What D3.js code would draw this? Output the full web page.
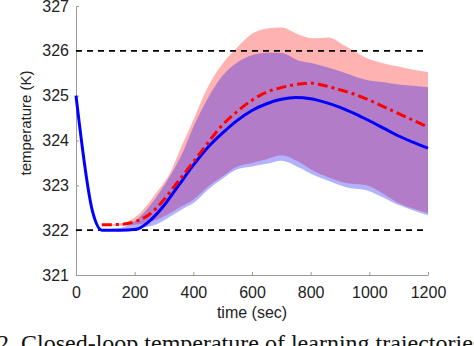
<!DOCTYPE html>
<html>
<head>
<meta charset="utf-8">
<script src="https://cdn.jsdelivr.net/npm/d3@7"></script>
<style>
  body { margin: 0; background: #fff; overflow: hidden; }
  svg { display: block; }
  .tick text { font-family: "Liberation Sans", Arial, sans-serif; font-size: 16px; fill: #222; }
</style>
</head>
<body>
<div class="chart"></div>
<script>
// values (time in sec, temperature in K)
const X_TICKS = [0, 200, 400, 600, 800, 1000, 1200];
const Y_TICKS = [321, 322, 323, 324, 325, 326, 327];
const LIMITS = [322, 326];

const BLUE_T = [0, 57, 88, 150, 205, 250, 300, 350, 400, 450, 500, 550, 600, 650, 700, 750, 800, 850, 900, 950, 1000, 1050, 1100, 1150, 1200];
const BLUE_V = [325.0, 322.4, 322.0, 322.0, 322.02, 322.2, 322.55, 323.0, 323.45, 323.85, 324.17, 324.45, 324.67, 324.82, 324.92, 324.96, 324.93, 324.85, 324.74, 324.6, 324.44, 324.27, 324.1, 323.96, 323.83];

const RED_T = [88, 150, 205, 250, 275, 350, 423, 500, 550, 600, 650, 700, 750, 800, 850, 900, 950, 1000, 1050, 1100, 1150, 1200];
const RED_V = [322.12, 322.13, 322.2, 322.35, 322.5, 323.1, 323.72, 324.35, 324.65, 324.9, 325.08, 325.18, 325.25, 325.28, 325.22, 325.13, 325.03, 324.9, 324.75, 324.6, 324.45, 324.3];

// bands: upper and lower envelope of each run set
const BAND_T = [88, 150, 218, 270, 320, 365, 400, 450, 500, 550, 600, 650, 700, 760, 810, 860, 920, 990, 1050, 1100, 1150, 1200];
const RED_HI = [322.12, 322.15, 322.38, 322.8, 323.27, 323.95, 324.46, 325.2, 325.72, 326.08, 326.38, 326.5, 326.52, 326.36, 326.28, 326.3, 326.1, 325.84, 325.72, 325.65, 325.58, 325.53];
const RED_LO = [322.1, 322.1, 322.13, 322.22, 322.38, 322.55, 322.68, 322.97, 323.2, 323.42, 323.5, 323.58, 323.67, 323.52, 323.32, 323.18, 323.05, 323.0, 322.8, 322.6, 322.48, 322.38];
const BLUE_HI = [322.02, 322.05, 322.3, 322.7, 323.2, 323.75, 324.3, 324.95, 325.45, 325.74, 325.9, 325.96, 325.95, 325.78, 325.72, 325.63, 325.5, 325.35, 325.3, 325.25, 325.22, 325.19];
const BLUE_LO = [322.0, 322.0, 322.05, 322.12, 322.3, 322.48, 322.6, 322.9, 323.15, 323.36, 323.42, 323.48, 323.55, 323.4, 323.23, 323.1, 322.96, 322.89, 322.72, 322.56, 322.44, 322.33];

const WIDTH = 474;
const HEIGHT = 346;
const X_RANGE = [76, 428];
const Y_RANGE = [275, 6];

const svg = d3.select(".chart")
  .append("svg")
  .attr("width", WIDTH)
  .attr("height", HEIGHT);

const xScale = d3.scaleLinear().domain([0, 1200]).range(X_RANGE);
const yScale = d3.scaleLinear().domain([321, 327]).range(Y_RANGE);

const zip = (ts, vs) => ts.map((t, i) => [t, vs[i]]);
const band = (lo, hi) => BAND_T.map((t, i) => ({ t, lo: lo[i], hi: hi[i] }));

const area = d3.area()
  .x(d => xScale(d.t))
  .y0(d => yScale(d.lo))
  .y1(d => yScale(d.hi))
  .curve(d3.curveMonotoneX);

const line = d3.line()
  .x(d => xScale(d[0]))
  .y(d => yScale(d[1]))
  .curve(d3.curveMonotoneX);

// shaded ranges
svg.append("path")
  .attr("d", area(band(RED_LO, RED_HI)))
  .attr("fill", "#ff0000")
  .attr("fill-opacity", 0.3);
svg.append("path")
  .attr("d", area(band(BLUE_LO, BLUE_HI)))
  .attr("fill", "#0000ff")
  .attr("fill-opacity", 0.3);

// axes (left and bottom only, ticks pointing in)
const xAxis = svg.append("g")
  .attr("transform", `translate(0, ${Y_RANGE[0]})`)
  .call(d3.axisBottom(xScale).tickValues(X_TICKS).tickFormat(d3.format("d"))
    .tickSizeInner(-3).tickSizeOuter(0).tickPadding(8));
const yAxis = svg.append("g")
  .attr("transform", `translate(${X_RANGE[0]}, 0)`)
  .call(d3.axisLeft(yScale).tickValues(Y_TICKS).tickFormat(d3.format("d"))
    .tickSizeInner(-3).tickSizeOuter(0).tickPadding(7));
svg.selectAll(".domain, .tick line").attr("stroke", "#9a9a9a").attr("stroke-width", 1);
xAxis.selectAll(".tick text").attr("dy", "0.95em");

// limit lines
svg.selectAll(".limit")
  .data(LIMITS)
  .join("line")
  .attr("class", "limit")
  .attr("x1", xScale(0))
  .attr("x2", xScale(1200))
  .attr("y1", d => yScale(d))
  .attr("y2", d => yScale(d))
  .attr("stroke", "#000")
  .attr("stroke-width", 1.6)
  .attr("stroke-dasharray", "6,5");

// mean trajectories
svg.append("path")
  .attr("d", line(zip(BLUE_T, BLUE_V)))
  .attr("fill", "none")
  .attr("stroke", "#0000ff")
  .attr("stroke-width", 3);
svg.append("path")
  .attr("d", line(zip(RED_T, RED_V)))
  .attr("fill", "none")
  .attr("stroke", "#ff0000")
  .attr("stroke-width", 3)
  .attr("stroke-dasharray", "10,4,3,4");

// axis titles
svg.append("text")
  .attr("x", 252)
  .attr("y", 318)
  .attr("text-anchor", "middle")
  .attr("font-family", "Liberation Sans, Arial, sans-serif")
  .attr("font-size", 16)
  .attr("fill", "#222")
  .text("time (sec)");
svg.append("text")
  .attr("transform", "translate(31, 123) rotate(-90)")
  .attr("text-anchor", "middle")
  .attr("font-family", "Liberation Sans, Arial, sans-serif")
  .attr("font-size", 15)
  .attr("fill", "#222")
  .text("temperature (K)");

// caption cut off by the bottom edge
svg.append("text")
  .attr("x", -3)
  .attr("y", 351)
  .attr("font-family", "Liberation Serif, Times New Roman, serif")
  .attr("font-size", 24)
  .attr("fill", "#111")
  .text("2. Closed-loop temperature of learning trajectories");
</script>
</body>
</html>
